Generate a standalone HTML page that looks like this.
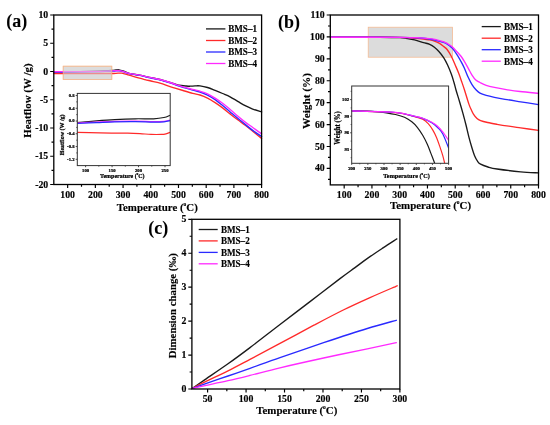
<!DOCTYPE html>
<html><head><meta charset="utf-8"><title>Figure</title>
<style>
html,body{margin:0;padding:0;background:#fff;}
body{width:550px;height:425px;overflow:hidden;}
svg{display:block;}
text{font-family:"Liberation Serif","Times New Roman",serif;font-weight:bold;fill:#000;}
text.t{stroke:#000;stroke-width:0.15px;}
text.L{stroke:#000;stroke-width:0.05px;}
text.s{stroke:#000;stroke-width:0.22px;}
</style></head><body>
<svg width="550" height="425" viewBox="0 0 550 425">
<rect width="550" height="425" fill="#fff"/>
<text class="L" x="6.2" y="27.1" font-size="18.00">(a)</text>
<rect x="63.20" y="66.20" width="48.60" height="13.30" fill="#dcdcdc" stroke="#f5b88f" stroke-width="0.75"/>
<path d="M53.80 71.80 C58.17 71.77 72.30 71.70 80.00 71.60 C87.70 71.50 94.73 71.38 100.00 71.20 C105.27 71.02 108.93 70.72 111.60 70.50 C114.27 70.28 114.77 70.02 116.00 69.90 C117.23 69.78 117.83 69.63 119.00 69.80 C120.17 69.97 121.32 70.32 123.00 70.90 C124.68 71.48 126.35 72.60 129.10 73.30 C131.85 74.00 136.85 74.58 139.50 75.10 C142.15 75.62 143.08 75.97 145.00 76.40 C146.92 76.83 148.50 77.18 151.00 77.70 C153.50 78.22 156.83 78.72 160.00 79.50 C163.17 80.28 167.33 81.60 170.00 82.40 C172.67 83.20 174.08 83.78 176.00 84.30 C177.92 84.82 179.83 85.22 181.50 85.50 C183.17 85.78 184.58 85.88 186.00 86.00 C187.42 86.12 188.50 86.22 190.00 86.20 C191.50 86.18 193.33 85.95 195.00 85.90 C196.67 85.85 197.92 85.63 200.00 85.90 C202.08 86.17 204.98 86.75 207.50 87.50 C210.02 88.25 212.58 89.40 215.10 90.40 C217.62 91.40 220.10 92.43 222.60 93.50 C225.10 94.57 227.58 95.50 230.10 96.80 C232.62 98.10 235.18 99.82 237.70 101.30 C240.22 102.78 242.70 104.40 245.20 105.70 C247.70 107.00 249.97 108.05 252.70 109.10 C255.43 110.15 260.12 111.52 261.60 112.00" stroke="#1a1a1a" stroke-width="1.35" fill="none" stroke-linejoin="round" stroke-linecap="round"/>
<path d="M53.80 73.50 C58.17 73.52 72.30 73.60 80.00 73.60 C87.70 73.60 94.73 73.52 100.00 73.50 C105.27 73.48 108.60 73.55 111.60 73.50 C114.60 73.45 116.30 73.25 118.00 73.20 C119.70 73.15 119.95 72.87 121.80 73.20 C123.65 73.53 126.15 74.37 129.10 75.20 C132.05 76.03 136.85 77.47 139.50 78.20 C142.15 78.93 143.08 79.13 145.00 79.60 C146.92 80.07 148.50 80.42 151.00 81.00 C153.50 81.58 156.83 82.17 160.00 83.10 C163.17 84.03 167.50 85.77 170.00 86.60 C172.50 87.43 172.83 87.45 175.00 88.10 C177.17 88.75 180.05 89.63 183.00 90.50 C185.95 91.37 189.87 92.55 192.70 93.30 C195.53 94.05 197.53 94.20 200.00 95.00 C202.47 95.80 204.98 96.83 207.50 98.10 C210.02 99.37 212.58 100.97 215.10 102.60 C217.62 104.23 220.10 106.02 222.60 107.90 C225.10 109.78 227.58 111.92 230.10 113.90 C232.62 115.88 235.18 117.90 237.70 119.80 C240.22 121.70 242.70 123.40 245.20 125.30 C247.70 127.20 249.97 129.02 252.70 131.20 C255.43 133.38 260.12 137.20 261.60 138.40" stroke="#ff2a2a" stroke-width="1.35" fill="none" stroke-linejoin="round" stroke-linecap="round"/>
<path d="M53.80 72.00 C58.17 71.98 72.30 71.97 80.00 71.90 C87.70 71.83 94.73 71.72 100.00 71.60 C105.27 71.48 108.93 71.32 111.60 71.20 C114.27 71.08 114.77 70.95 116.00 70.90 C117.23 70.85 117.83 70.77 119.00 70.90 C120.17 71.03 121.32 71.25 123.00 71.70 C124.68 72.15 126.35 72.98 129.10 73.60 C131.85 74.22 136.85 74.88 139.50 75.40 C142.15 75.92 143.08 76.27 145.00 76.70 C146.92 77.13 148.50 77.47 151.00 78.00 C153.50 78.53 156.83 79.08 160.00 79.90 C163.17 80.72 167.33 82.05 170.00 82.90 C172.67 83.75 173.83 84.27 176.00 85.00 C178.17 85.73 180.22 86.47 183.00 87.30 C185.78 88.13 189.87 89.22 192.70 90.00 C195.53 90.78 197.53 91.15 200.00 92.00 C202.47 92.85 204.98 93.83 207.50 95.10 C210.02 96.37 212.58 97.87 215.10 99.60 C217.62 101.33 220.10 103.45 222.60 105.50 C225.10 107.55 227.58 109.77 230.10 111.90 C232.62 114.03 235.18 116.22 237.70 118.30 C240.22 120.38 242.70 122.38 245.20 124.40 C247.70 126.42 249.97 128.37 252.70 130.40 C255.43 132.43 260.12 135.57 261.60 136.60" stroke="#2a2aff" stroke-width="1.35" fill="none" stroke-linejoin="round" stroke-linecap="round"/>
<path d="M53.80 71.70 C58.17 71.68 72.30 71.67 80.00 71.60 C87.70 71.53 94.73 71.42 100.00 71.30 C105.27 71.18 108.93 71.02 111.60 70.90 C114.27 70.78 114.77 70.65 116.00 70.60 C117.23 70.55 117.83 70.47 119.00 70.60 C120.17 70.73 121.32 70.95 123.00 71.40 C124.68 71.85 126.35 72.68 129.10 73.30 C131.85 73.92 136.85 74.58 139.50 75.10 C142.15 75.62 143.08 75.97 145.00 76.40 C146.92 76.83 148.50 77.18 151.00 77.70 C153.50 78.22 156.83 78.70 160.00 79.50 C163.17 80.30 167.33 81.65 170.00 82.50 C172.67 83.35 173.83 83.87 176.00 84.60 C178.17 85.33 180.22 86.10 183.00 86.90 C185.78 87.70 189.87 88.68 192.70 89.40 C195.53 90.12 197.53 90.47 200.00 91.20 C202.47 91.93 204.98 92.65 207.50 93.80 C210.02 94.95 212.58 96.52 215.10 98.10 C217.62 99.68 220.10 101.42 222.60 103.30 C225.10 105.18 227.58 107.28 230.10 109.40 C232.62 111.52 235.18 113.88 237.70 116.00 C240.22 118.12 242.70 120.18 245.20 122.10 C247.70 124.02 249.97 125.53 252.70 127.50 C255.43 129.47 260.12 132.83 261.60 133.90" stroke="#ff2aff" stroke-width="1.35" fill="none" stroke-linejoin="round" stroke-linecap="round"/>
<rect x="63.20" y="66.20" width="48.60" height="13.30" fill="#dcdcdc" fill-opacity="0.55" stroke="#f5b88f" stroke-width="0.75"/>
<rect x="77.30" y="93.40" width="92.90" height="72.20" fill="#fff"/>
<rect x="53.80" y="15.00" width="207.80" height="169.50" fill="none" stroke="#000" stroke-width="1.30"/>
<path d="M67.65 184.50V188.10M95.36 184.50V188.10M123.07 184.50V188.10M150.77 184.50V188.10M178.48 184.50V188.10M206.19 184.50V188.10M233.89 184.50V188.10M261.60 184.50V188.10M81.51 184.50V186.80M109.21 184.50V186.80M136.92 184.50V186.80M164.63 184.50V186.80M192.33 184.50V186.80M220.04 184.50V186.80M247.75 184.50V186.80M53.80 184.50H50.20M53.80 156.25H50.20M53.80 128.00H50.20M53.80 99.75H50.20M53.80 71.50H50.20M53.80 43.25H50.20M53.80 15.00H50.20M53.80 170.38H51.50M53.80 142.12H51.50M53.80 113.88H51.50M53.80 85.62H51.50M53.80 57.38H51.50M53.80 29.12H51.50" stroke="#000" stroke-width="1.17" fill="none"/>
<text class="t" transform="translate(67.65 197.70) scale(1 1.100)" text-anchor="middle" font-size="9.80">100</text>
<text class="t" transform="translate(95.36 197.70) scale(1 1.100)" text-anchor="middle" font-size="9.80">200</text>
<text class="t" transform="translate(123.07 197.70) scale(1 1.100)" text-anchor="middle" font-size="9.80">300</text>
<text class="t" transform="translate(150.77 197.70) scale(1 1.100)" text-anchor="middle" font-size="9.80">400</text>
<text class="t" transform="translate(178.48 197.70) scale(1 1.100)" text-anchor="middle" font-size="9.80">500</text>
<text class="t" transform="translate(206.19 197.70) scale(1 1.100)" text-anchor="middle" font-size="9.80">600</text>
<text class="t" transform="translate(233.89 197.70) scale(1 1.100)" text-anchor="middle" font-size="9.80">700</text>
<text class="t" transform="translate(261.60 197.70) scale(1 1.100)" text-anchor="middle" font-size="9.80">800</text>
<text class="t" transform="translate(48.20 187.56) scale(1 1.100)" text-anchor="end" font-size="9.80">-20</text>
<text class="t" transform="translate(48.20 159.31) scale(1 1.100)" text-anchor="end" font-size="9.80">-15</text>
<text class="t" transform="translate(48.20 131.06) scale(1 1.100)" text-anchor="end" font-size="9.80">-10</text>
<text class="t" transform="translate(48.20 102.81) scale(1 1.100)" text-anchor="end" font-size="9.80">-5</text>
<text class="t" transform="translate(48.20 74.56) scale(1 1.100)" text-anchor="end" font-size="9.80">0</text>
<text class="t" transform="translate(48.20 46.31) scale(1 1.100)" text-anchor="end" font-size="9.80">5</text>
<text class="t" transform="translate(48.20 18.06) scale(1 1.100)" text-anchor="end" font-size="9.80">10</text>
<line x1="206.00" y1="28.90" x2="225.40" y2="28.90" stroke="#1a1a1a" stroke-width="1.30"/>
<text class="t" transform="translate(228.20 32.37) scale(1 1.120)" font-size="9.10">BMS&#8211;1</text>
<line x1="206.00" y1="40.50" x2="225.40" y2="40.50" stroke="#ff2a2a" stroke-width="1.30"/>
<text class="t" transform="translate(228.20 43.97) scale(1 1.120)" font-size="9.10">BMS&#8211;2</text>
<line x1="206.00" y1="52.00" x2="225.40" y2="52.00" stroke="#2a2aff" stroke-width="1.30"/>
<text class="t" transform="translate(228.20 55.47) scale(1 1.120)" font-size="9.10">BMS&#8211;3</text>
<line x1="206.00" y1="63.50" x2="225.40" y2="63.50" stroke="#ff2aff" stroke-width="1.30"/>
<text class="t" transform="translate(228.20 66.97) scale(1 1.120)" font-size="9.10">BMS&#8211;4</text>
<text class="t" transform="translate(157.30 210.80)" text-anchor="middle" font-size="10.90">Temperature (<tspan font-size="5.45" dy="-4.80">o</tspan><tspan dy="4.80">C)</tspan></text>
<text class="t" transform="translate(31.00 100.60) rotate(-90)" text-anchor="middle" font-size="10.90">Heatflow (W /g)</text>
<clipPath id="ca"><rect x="77.30" y="93.40" width="92.90" height="72.20"/></clipPath>
<g clip-path="url(#ca)">
<path d="M76.90 122.70 C80.18 122.40 90.30 121.42 96.60 120.90 C102.90 120.38 108.23 119.95 114.70 119.60 C121.17 119.25 128.92 118.93 135.40 118.80 C141.88 118.67 148.85 119.02 153.60 118.80 C158.35 118.58 161.13 118.10 163.90 117.50 C166.67 116.90 169.15 115.58 170.20 115.20" stroke="#1a1a1a" stroke-width="1.20" fill="none" stroke-linejoin="round" stroke-linecap="round"/>
<path d="M76.90 132.30 C80.75 132.38 93.70 132.67 100.00 132.80 C106.30 132.93 110.08 133.05 114.70 133.10 C119.32 133.15 123.48 133.02 127.70 133.10 C131.92 133.18 136.12 133.38 140.00 133.60 C143.88 133.82 147.45 134.27 151.00 134.40 C154.55 134.53 158.80 134.50 161.30 134.40 C163.80 134.30 164.52 134.15 166.00 133.80 C167.48 133.45 169.50 132.55 170.20 132.30" stroke="#ff2a2a" stroke-width="1.20" fill="none" stroke-linejoin="round" stroke-linecap="round"/>
<path d="M76.90 123.00 C80.18 122.83 90.30 122.28 96.60 122.00 C102.90 121.72 108.23 121.45 114.70 121.30 C121.17 121.15 128.92 121.03 135.40 121.10 C141.88 121.17 148.85 121.67 153.60 121.70 C158.35 121.73 161.13 121.58 163.90 121.30 C166.67 121.02 169.15 120.22 170.20 120.00" stroke="#ff2aff" stroke-width="1.20" fill="none" stroke-linejoin="round" stroke-linecap="round"/>
<path d="M76.90 123.50 C80.18 123.35 90.30 122.88 96.60 122.60 C102.90 122.32 108.23 121.97 114.70 121.80 C121.17 121.63 128.92 121.53 135.40 121.60 C141.88 121.67 148.85 122.17 153.60 122.20 C158.35 122.23 161.13 122.07 163.90 121.80 C166.67 121.53 169.15 120.80 170.20 120.60" stroke="#2a2aff" stroke-width="1.20" fill="none" stroke-linejoin="round" stroke-linecap="round"/>
</g>
<rect x="77.30" y="93.40" width="92.90" height="72.20" fill="none" stroke="#333" stroke-width="1.00"/>
<path d="M85.60 165.60V167.20M112.07 165.60V167.20M138.53 165.60V167.20M165.00 165.60V167.20M98.83 165.60V166.60M125.30 165.60V166.60M151.77 165.60V166.60M77.30 95.50H75.70M77.30 108.26H75.70M77.30 121.02H75.70M77.30 133.78H75.70M77.30 146.54H75.70M77.30 159.30H75.70M77.30 101.88H76.30M77.30 114.64H76.30M77.30 127.40H76.30M77.30 140.16H76.30M77.30 152.92H76.30" stroke="#333" stroke-width="0.90" fill="none"/>
<text class="s" x="85.60" y="172.40" text-anchor="middle" font-size="4.70">100</text>
<text class="s" x="112.07" y="172.40" text-anchor="middle" font-size="4.70">150</text>
<text class="s" x="138.53" y="172.40" text-anchor="middle" font-size="4.70">200</text>
<text class="s" x="165.00" y="172.40" text-anchor="middle" font-size="4.70">250</text>
<text class="s" x="74.50" y="96.81" text-anchor="end" font-size="4.70">0.8</text>
<text class="s" x="74.50" y="109.57" text-anchor="end" font-size="4.70">0.4</text>
<text class="s" x="74.50" y="122.33" text-anchor="end" font-size="4.70">0.0</text>
<text class="s" x="74.50" y="135.09" text-anchor="end" font-size="4.70">-0.4</text>
<text class="s" x="74.50" y="147.85" text-anchor="end" font-size="4.70">-0.8</text>
<text class="s" x="74.50" y="160.61" text-anchor="end" font-size="4.70">-1.2</text>
<text class="s" transform="translate(122.30 178.40) scale(1 1.120)" text-anchor="middle" font-size="6.00">Temperature (<tspan font-size="3.00" dy="-2.64">o</tspan><tspan dy="2.64">C)</tspan></text>
<text class="s" transform="translate(64.30 134.80) rotate(-90) scale(1 1.120)" text-anchor="middle" font-size="6.00">Heatflow (W /g)</text>
<text class="L" x="277.9" y="27.9" font-size="18.00">(b)</text>
<rect x="368.20" y="27.20" width="84.30" height="30.00" fill="#dcdcdc" stroke="#f5b88f" stroke-width="0.75"/>
<path d="M330.60 37.20 C338.83 37.20 368.43 37.13 380.00 37.20 C391.57 37.27 395.50 37.38 400.00 37.60 C404.50 37.82 404.58 38.12 407.00 38.50 C409.42 38.88 411.73 39.22 414.50 39.90 C417.27 40.58 421.07 41.85 423.60 42.60 C426.13 43.35 427.90 43.63 429.70 44.40 C431.50 45.17 432.83 45.98 434.40 47.20 C435.97 48.42 437.53 49.93 439.10 51.70 C440.67 53.47 442.38 55.58 443.80 57.80 C445.22 60.02 446.33 62.25 447.60 65.00 C448.87 67.75 450.33 71.38 451.40 74.30 C452.47 77.22 453.23 79.88 454.00 82.50 C454.77 85.12 455.08 86.83 456.00 90.00 C456.92 93.17 458.33 97.57 459.50 101.50 C460.67 105.43 461.92 109.68 463.00 113.60 C464.08 117.52 465.02 121.08 466.00 125.00 C466.98 128.92 467.90 133.27 468.90 137.10 C469.90 140.93 471.03 144.85 472.00 148.00 C472.97 151.15 473.78 153.80 474.70 156.00 C475.62 158.20 476.52 159.83 477.50 161.20 C478.48 162.57 478.85 163.23 480.60 164.20 C482.35 165.17 485.25 166.20 488.00 167.00 C490.75 167.80 491.65 168.20 497.10 169.00 C502.55 169.80 513.80 171.15 520.70 171.80 C527.60 172.45 535.53 172.72 538.50 172.90" stroke="#1a1a1a" stroke-width="1.35" fill="none" stroke-linejoin="round" stroke-linecap="round"/>
<path d="M330.60 37.20 C342.17 37.23 385.93 37.22 400.00 37.40 C414.07 37.58 410.83 37.98 415.00 38.30 C419.17 38.62 422.55 39.03 425.00 39.30 C427.45 39.57 428.13 39.60 429.70 39.90 C431.27 40.20 432.83 40.55 434.40 41.10 C435.97 41.65 437.53 42.28 439.10 43.20 C440.67 44.12 442.47 45.55 443.80 46.60 C445.13 47.65 445.85 47.88 447.10 49.50 C448.35 51.12 449.95 53.72 451.30 56.30 C452.65 58.88 453.95 62.13 455.20 65.00 C456.45 67.87 457.65 70.52 458.80 73.50 C459.95 76.48 461.15 80.15 462.10 82.90 C463.05 85.65 463.37 86.47 464.50 90.00 C465.63 93.53 467.73 100.72 468.90 104.10 C470.07 107.48 470.72 108.60 471.50 110.30 C472.28 112.00 472.68 112.93 473.60 114.30 C474.52 115.67 475.83 117.45 477.00 118.50 C478.17 119.55 478.83 119.93 480.60 120.60 C482.37 121.27 484.85 121.88 487.60 122.50 C490.35 123.12 493.57 123.68 497.10 124.30 C500.63 124.92 504.87 125.60 508.80 126.20 C512.73 126.80 515.75 127.20 520.70 127.90 C525.65 128.60 535.53 129.98 538.50 130.40" stroke="#ff2a2a" stroke-width="1.35" fill="none" stroke-linejoin="round" stroke-linecap="round"/>
<path d="M330.60 37.20 C342.17 37.22 385.10 37.17 400.00 37.30 C414.90 37.43 414.67 37.63 420.00 38.00 C425.33 38.37 428.67 38.93 432.00 39.50 C435.33 40.07 437.83 40.83 440.00 41.40 C442.17 41.97 443.42 42.17 445.00 42.90 C446.58 43.63 448.22 44.85 449.50 45.80 C450.78 46.75 451.35 46.97 452.70 48.60 C454.05 50.23 456.22 53.45 457.60 55.60 C458.98 57.75 459.88 59.43 461.00 61.50 C462.12 63.57 463.10 65.37 464.30 68.00 C465.50 70.63 466.92 74.53 468.20 77.30 C469.48 80.07 470.67 82.48 472.00 84.60 C473.33 86.72 474.87 88.57 476.20 90.00 C477.53 91.43 478.33 92.30 480.00 93.20 C481.67 94.10 483.80 94.72 486.20 95.40 C488.60 96.08 491.27 96.65 494.40 97.30 C497.53 97.95 500.62 98.55 505.00 99.30 C509.38 100.05 515.12 100.92 520.70 101.80 C526.28 102.68 535.53 104.13 538.50 104.60" stroke="#2a2aff" stroke-width="1.35" fill="none" stroke-linejoin="round" stroke-linecap="round"/>
<path d="M330.60 37.20 C342.17 37.22 385.10 37.20 400.00 37.30 C414.90 37.40 414.67 37.53 420.00 37.80 C425.33 38.07 428.67 38.40 432.00 38.90 C435.33 39.40 437.83 40.22 440.00 40.80 C442.17 41.38 443.33 41.67 445.00 42.40 C446.67 43.13 448.72 44.40 450.00 45.20 C451.28 46.00 451.62 46.20 452.70 47.20 C453.78 48.20 455.08 49.65 456.50 51.20 C457.92 52.75 459.87 54.77 461.20 56.50 C462.53 58.23 463.30 59.58 464.50 61.60 C465.70 63.62 467.15 66.33 468.40 68.60 C469.65 70.87 470.77 73.28 472.00 75.20 C473.23 77.12 474.47 78.88 475.80 80.10 C477.13 81.32 478.27 81.63 480.00 82.50 C481.73 83.37 483.80 84.48 486.20 85.30 C488.60 86.12 491.27 86.72 494.40 87.40 C497.53 88.08 500.73 88.72 505.00 89.40 C509.27 90.08 514.42 90.85 520.00 91.50 C525.58 92.15 535.42 93.00 538.50 93.30" stroke="#ff2aff" stroke-width="1.35" fill="none" stroke-linejoin="round" stroke-linecap="round"/>
<rect x="351.70" y="86.00" width="96.90" height="77.30" fill="#fff"/>
<rect x="330.30" y="15.00" width="208.20" height="169.90" fill="none" stroke="#000" stroke-width="1.30"/>
<path d="M344.18 184.90V188.50M371.94 184.90V188.50M399.70 184.90V188.50M427.46 184.90V188.50M455.22 184.90V188.50M482.98 184.90V188.50M510.74 184.90V188.50M538.50 184.90V188.50M358.06 184.90V187.20M385.82 184.90V187.20M413.58 184.90V187.20M441.34 184.90V187.20M469.10 184.90V187.20M496.86 184.90V187.20M524.62 184.90V187.20M330.30 168.40H326.70M330.30 146.49H326.70M330.30 124.57H326.70M330.30 102.66H326.70M330.30 80.74H326.70M330.30 58.83H326.70M330.30 36.91H326.70M330.30 15.00H326.70M330.30 179.36H328.00M330.30 157.44H328.00M330.30 135.53H328.00M330.30 113.61H328.00M330.30 91.70H328.00M330.30 69.79H328.00M330.30 47.87H328.00M330.30 25.96H328.00" stroke="#000" stroke-width="1.17" fill="none"/>
<text class="t" transform="translate(344.18 198.10) scale(1 1.100)" text-anchor="middle" font-size="9.80">100</text>
<text class="t" transform="translate(371.94 198.10) scale(1 1.100)" text-anchor="middle" font-size="9.80">200</text>
<text class="t" transform="translate(399.70 198.10) scale(1 1.100)" text-anchor="middle" font-size="9.80">300</text>
<text class="t" transform="translate(427.46 198.10) scale(1 1.100)" text-anchor="middle" font-size="9.80">400</text>
<text class="t" transform="translate(455.22 198.10) scale(1 1.100)" text-anchor="middle" font-size="9.80">500</text>
<text class="t" transform="translate(482.98 198.10) scale(1 1.100)" text-anchor="middle" font-size="9.80">600</text>
<text class="t" transform="translate(510.74 198.10) scale(1 1.100)" text-anchor="middle" font-size="9.80">700</text>
<text class="t" transform="translate(538.50 198.10) scale(1 1.100)" text-anchor="middle" font-size="9.80">800</text>
<text class="t" transform="translate(324.70 171.46) scale(1 1.100)" text-anchor="end" font-size="9.80">40</text>
<text class="t" transform="translate(324.70 149.54) scale(1 1.100)" text-anchor="end" font-size="9.80">50</text>
<text class="t" transform="translate(324.70 127.63) scale(1 1.100)" text-anchor="end" font-size="9.80">60</text>
<text class="t" transform="translate(324.70 105.71) scale(1 1.100)" text-anchor="end" font-size="9.80">70</text>
<text class="t" transform="translate(324.70 83.80) scale(1 1.100)" text-anchor="end" font-size="9.80">80</text>
<text class="t" transform="translate(324.70 61.88) scale(1 1.100)" text-anchor="end" font-size="9.80">90</text>
<text class="t" transform="translate(324.70 39.97) scale(1 1.100)" text-anchor="end" font-size="9.80">100</text>
<text class="t" transform="translate(324.70 18.06) scale(1 1.100)" text-anchor="end" font-size="9.80">110</text>
<line x1="481.70" y1="26.60" x2="500.80" y2="26.60" stroke="#1a1a1a" stroke-width="1.30"/>
<text class="t" transform="translate(503.90 30.07) scale(1 1.120)" font-size="9.10">BMS&#8211;1</text>
<line x1="481.70" y1="38.20" x2="500.80" y2="38.20" stroke="#ff2a2a" stroke-width="1.30"/>
<text class="t" transform="translate(503.90 41.67) scale(1 1.120)" font-size="9.10">BMS&#8211;2</text>
<line x1="481.70" y1="49.70" x2="500.80" y2="49.70" stroke="#2a2aff" stroke-width="1.30"/>
<text class="t" transform="translate(503.90 53.17) scale(1 1.120)" font-size="9.10">BMS&#8211;3</text>
<line x1="481.70" y1="61.20" x2="500.80" y2="61.20" stroke="#ff2aff" stroke-width="1.30"/>
<text class="t" transform="translate(503.90 64.67) scale(1 1.120)" font-size="9.10">BMS&#8211;4</text>
<text class="t" transform="translate(430.50 209.00)" text-anchor="middle" font-size="10.90">Temperature (<tspan font-size="5.45" dy="-4.80">o</tspan><tspan dy="4.80">C)</tspan></text>
<text class="t" transform="translate(309.50 101.00) rotate(-90)" text-anchor="middle" font-size="11.25">Weight (%)</text>
<clipPath id="cb"><rect x="351.70" y="86.00" width="96.90" height="77.30"/></clipPath>
<g clip-path="url(#cb)">
<path d="M351.50 110.90 C354.07 110.95 362.30 111.02 366.90 111.20 C371.50 111.38 375.85 111.73 379.10 112.00 C382.35 112.27 383.67 112.38 386.40 112.80 C389.13 113.22 392.48 113.75 395.50 114.50 C398.52 115.25 401.78 116.08 404.50 117.30 C407.22 118.52 409.67 120.13 411.80 121.80 C413.93 123.47 415.48 125.05 417.30 127.30 C419.12 129.55 421.03 132.47 422.70 135.30 C424.37 138.13 425.93 141.28 427.30 144.30 C428.67 147.32 429.68 150.28 430.90 153.40 C432.12 156.52 433.98 161.40 434.60 163.00" stroke="#1a1a1a" stroke-width="1.20" fill="none" stroke-linejoin="round" stroke-linecap="round"/>
<path d="M351.50 110.90 C358.83 111.20 385.15 111.78 395.50 112.70 C405.85 113.62 409.07 115.30 413.60 116.40 C418.13 117.50 420.27 118.10 422.70 119.30 C425.13 120.50 426.53 121.83 428.20 123.60 C429.87 125.37 431.33 127.62 432.70 129.90 C434.07 132.18 435.18 134.43 436.40 137.30 C437.62 140.17 438.95 144.08 440.00 147.10 C441.05 150.12 441.93 152.75 442.70 155.40 C443.47 158.05 444.28 161.73 444.60 163.00" stroke="#ff2a2a" stroke-width="1.20" fill="none" stroke-linejoin="round" stroke-linecap="round"/>
<path d="M351.50 110.90 C358.83 111.17 385.15 111.62 395.50 112.50 C405.85 113.38 409.07 115.22 413.60 116.20 C418.13 117.18 419.67 117.32 422.70 118.40 C425.73 119.48 429.37 121.22 431.80 122.70 C434.23 124.18 435.48 125.47 437.30 127.30 C439.12 129.13 440.82 130.25 442.70 133.70 C444.58 137.15 447.62 145.62 448.60 148.00" stroke="#2a2aff" stroke-width="1.20" fill="none" stroke-linejoin="round" stroke-linecap="round"/>
<path d="M351.50 110.90 C358.83 111.13 385.15 111.45 395.50 112.30 C405.85 113.15 409.07 115.02 413.60 116.00 C418.13 116.98 419.67 117.17 422.70 118.20 C425.73 119.23 429.37 120.90 431.80 122.20 C434.23 123.50 435.48 124.40 437.30 126.00 C439.12 127.60 440.82 129.42 442.70 131.80 C444.58 134.18 447.62 138.88 448.60 140.30" stroke="#ff2aff" stroke-width="1.20" fill="none" stroke-linejoin="round" stroke-linecap="round"/>
</g>
<rect x="351.70" y="86.00" width="96.90" height="77.30" fill="none" stroke="#333" stroke-width="1.00"/>
<path d="M351.70 163.30V164.90M367.85 163.30V164.90M384.00 163.30V164.90M400.15 163.30V164.90M416.30 163.30V164.90M432.45 163.30V164.90M448.60 163.30V164.90M359.77 163.30V164.30M375.93 163.30V164.30M392.07 163.30V164.30M408.23 163.30V164.30M424.38 163.30V164.30M440.53 163.30V164.30M351.70 149.40H350.10M351.70 132.80H350.10M351.70 116.20H350.10M351.70 99.60H350.10M351.70 157.70H350.70M351.70 141.10H350.70M351.70 124.50H350.70M351.70 107.90H350.70M351.70 91.30H350.70" stroke="#333" stroke-width="0.90" fill="none"/>
<text class="s" x="351.70" y="170.10" text-anchor="middle" font-size="4.70">200</text>
<text class="s" x="367.85" y="170.10" text-anchor="middle" font-size="4.70">250</text>
<text class="s" x="384.00" y="170.10" text-anchor="middle" font-size="4.70">300</text>
<text class="s" x="400.15" y="170.10" text-anchor="middle" font-size="4.70">350</text>
<text class="s" x="416.30" y="170.10" text-anchor="middle" font-size="4.70">400</text>
<text class="s" x="432.45" y="170.10" text-anchor="middle" font-size="4.70">450</text>
<text class="s" x="448.60" y="170.10" text-anchor="middle" font-size="4.70">500</text>
<text class="s" x="349.10" y="150.71" text-anchor="end" font-size="4.70">93</text>
<text class="s" x="349.10" y="134.11" text-anchor="end" font-size="4.70">96</text>
<text class="s" x="349.10" y="117.51" text-anchor="end" font-size="4.70">99</text>
<text class="s" x="349.10" y="100.91" text-anchor="end" font-size="4.70">102</text>
<text class="s" transform="translate(406.50 178.00) scale(1 1.120)" text-anchor="middle" font-size="6.25">Temperature (<tspan font-size="3.12" dy="-2.75">o</tspan><tspan dy="2.75">C)</tspan></text>
<text class="s" transform="translate(340.00 128.00) rotate(-90) scale(1 1.100)" text-anchor="middle" font-size="6.70">Weight (%)</text>
<text class="L" x="148.2" y="234.0" font-size="18.00">(c)</text>
<path d="M192.50 388.30 C194.58 386.85 199.08 383.68 205.00 379.60 C210.92 375.52 220.50 369.13 228.00 363.80 C235.50 358.47 241.33 354.15 250.00 347.60 C258.67 341.05 270.00 332.17 280.00 324.50 C290.00 316.83 300.00 309.25 310.00 301.60 C320.00 293.95 332.50 284.27 340.00 278.60 C347.50 272.93 350.30 271.05 355.00 267.60 C359.70 264.15 363.53 261.18 368.20 257.90 C372.87 254.62 378.23 251.07 383.00 247.90 C387.77 244.73 394.50 240.40 396.80 238.90" stroke="#1a1a1a" stroke-width="1.35" fill="none" stroke-linejoin="round" stroke-linecap="round"/>
<path d="M192.50 388.30 C194.58 387.22 199.08 384.70 205.00 381.80 C210.92 378.90 220.50 374.63 228.00 370.90 C235.50 367.17 241.33 363.98 250.00 359.40 C258.67 354.82 269.35 349.10 280.00 343.40 C290.65 337.70 303.35 330.77 313.90 325.20 C324.45 319.63 333.95 314.60 343.30 310.00 C352.65 305.40 361.02 301.63 370.00 297.60 C378.98 293.57 392.67 287.77 397.20 285.80" stroke="#ff2a2a" stroke-width="1.35" fill="none" stroke-linejoin="round" stroke-linecap="round"/>
<path d="M192.50 388.30 C194.58 387.55 199.08 385.85 205.00 383.80 C210.92 381.75 220.50 378.58 228.00 376.00 C235.50 373.42 241.33 371.37 250.00 368.30 C258.67 365.23 267.73 361.87 280.00 357.60 C292.27 353.33 309.05 347.55 323.60 342.70 C338.15 337.85 355.18 332.23 367.30 328.50 C379.42 324.77 391.47 321.67 396.30 320.30" stroke="#2a2aff" stroke-width="1.35" fill="none" stroke-linejoin="round" stroke-linecap="round"/>
<path d="M192.50 388.30 C194.58 387.85 199.08 386.87 205.00 385.60 C210.92 384.33 220.50 382.40 228.00 380.70 C235.50 379.00 241.33 377.55 250.00 375.40 C258.67 373.25 267.73 370.70 280.00 367.80 C292.27 364.90 309.05 361.17 323.60 358.00 C338.15 354.83 355.18 351.35 367.30 348.80 C379.42 346.25 391.47 343.72 396.30 342.70" stroke="#ff2aff" stroke-width="1.35" fill="none" stroke-linejoin="round" stroke-linecap="round"/>
<rect x="191.90" y="219.30" width="208.00" height="169.70" fill="none" stroke="#000" stroke-width="1.30"/>
<path d="M207.60 389.00V392.60M246.06 389.00V392.60M284.52 389.00V392.60M322.98 389.00V392.60M361.44 389.00V392.60M399.90 389.00V392.60M226.83 389.00V391.30M265.29 389.00V391.30M303.75 389.00V391.30M342.21 389.00V391.30M380.67 389.00V391.30M191.90 389.00H188.30M191.90 355.06H188.30M191.90 321.12H188.30M191.90 287.18H188.30M191.90 253.24H188.30M191.90 219.30H188.30M191.90 372.03H189.60M191.90 338.09H189.60M191.90 304.15H189.60M191.90 270.21H189.60M191.90 236.27H189.60" stroke="#000" stroke-width="1.17" fill="none"/>
<text class="t" transform="translate(207.60 401.90) scale(1 1.100)" text-anchor="middle" font-size="9.80">50</text>
<text class="t" transform="translate(246.06 401.90) scale(1 1.100)" text-anchor="middle" font-size="9.80">100</text>
<text class="t" transform="translate(284.52 401.90) scale(1 1.100)" text-anchor="middle" font-size="9.80">150</text>
<text class="t" transform="translate(322.98 401.90) scale(1 1.100)" text-anchor="middle" font-size="9.80">200</text>
<text class="t" transform="translate(361.44 401.90) scale(1 1.100)" text-anchor="middle" font-size="9.80">250</text>
<text class="t" transform="translate(399.90 401.90) scale(1 1.100)" text-anchor="middle" font-size="9.80">300</text>
<text class="t" transform="translate(186.30 392.06) scale(1 1.100)" text-anchor="end" font-size="9.80">0</text>
<text class="t" transform="translate(186.30 358.12) scale(1 1.100)" text-anchor="end" font-size="9.80">1</text>
<text class="t" transform="translate(186.30 324.18) scale(1 1.100)" text-anchor="end" font-size="9.80">2</text>
<text class="t" transform="translate(186.30 290.24) scale(1 1.100)" text-anchor="end" font-size="9.80">3</text>
<text class="t" transform="translate(186.30 256.30) scale(1 1.100)" text-anchor="end" font-size="9.80">4</text>
<text class="t" transform="translate(186.30 222.36) scale(1 1.100)" text-anchor="end" font-size="9.80">5</text>
<line x1="198.70" y1="229.50" x2="217.70" y2="229.50" stroke="#1a1a1a" stroke-width="1.30"/>
<text class="t" transform="translate(220.90 232.97) scale(1 1.120)" font-size="9.10">BMS&#8211;1</text>
<line x1="198.70" y1="240.90" x2="217.70" y2="240.90" stroke="#ff2a2a" stroke-width="1.30"/>
<text class="t" transform="translate(220.90 244.37) scale(1 1.120)" font-size="9.10">BMS&#8211;2</text>
<line x1="198.70" y1="252.40" x2="217.70" y2="252.40" stroke="#2a2aff" stroke-width="1.30"/>
<text class="t" transform="translate(220.90 255.87) scale(1 1.120)" font-size="9.10">BMS&#8211;3</text>
<line x1="198.70" y1="263.80" x2="217.70" y2="263.80" stroke="#ff2aff" stroke-width="1.30"/>
<text class="t" transform="translate(220.90 267.27) scale(1 1.120)" font-size="9.10">BMS&#8211;4</text>
<text class="t" transform="translate(296.80 413.50)" text-anchor="middle" font-size="10.90">Temperature (<tspan font-size="5.45" dy="-4.80">o</tspan><tspan dy="4.80">C)</tspan></text>
<text class="t" transform="translate(175.90 305.70) rotate(-90)" text-anchor="middle" font-size="10.80">Dimension change (&#8240;)</text>
</svg>
</body></html>
